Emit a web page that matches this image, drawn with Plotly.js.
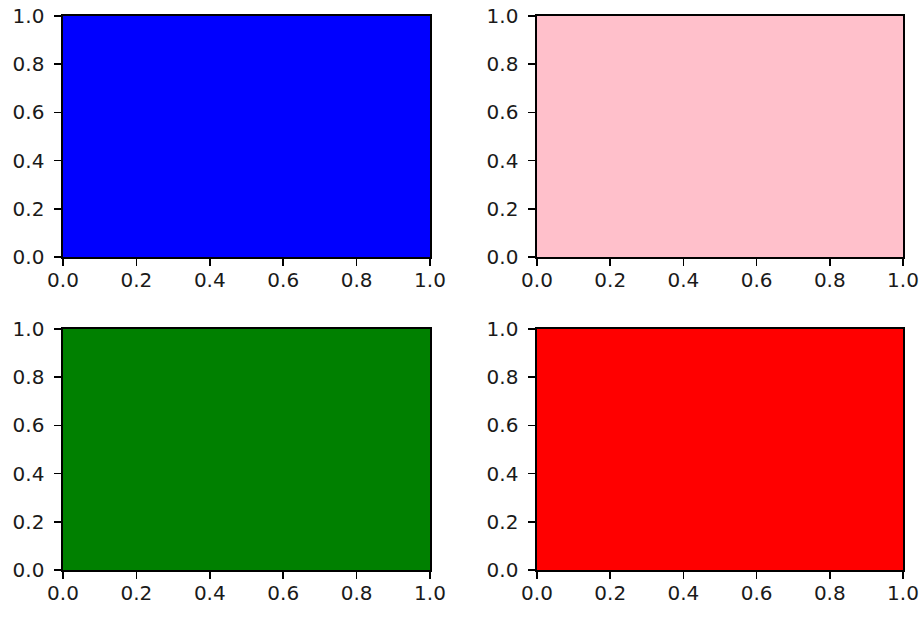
<!DOCTYPE html>
<html>
<head>
<meta charset="utf-8">
<script src="https://cdn.plot.ly/plotly-3.0.1.min.js"></script>
<style>html,body{margin:0;padding:0;background:#fff;}#chart{width:924px;height:622px;}</style>
</head>
<body>
<div id="chart"></div>
<script>
const faceColors = ['blue', 'pink', 'green', 'red'];
const tickValues = [0, 0.2, 0.4, 0.6, 0.8, 1.0];
const tickLabels = ['0.0', '0.2', '0.4', '0.6', '0.8', '1.0'];
const axisRange = [0, 1];

const W = 924, H = 622;
const colsPx = [[63, 430], [537, 903]];
const rowsPx = [[16, 257], [329, 570]];

const traces = [];
const layout = {
  width: W, height: H,
  margin: {l: 0, r: 0, t: 0, b: 0},
  paper_bgcolor: '#ffffff',
  plot_bgcolor: 'rgba(0,0,0,0)',
  showlegend: false,
  font: {family: 'DejaVu Sans', size: 20, color: '#1a1a1a'},
  shapes: []
};

function axisCommon() {
  return {
    range: axisRange.slice(),
    tickmode: 'array',
    tickvals: tickValues,
    ticktext: tickLabels,
    ticks: 'outside',
    ticklen: 7,
    tickwidth: 1.6,
    tickcolor: '#000000',
    showline: true,
    linecolor: '#000000',
    linewidth: 1.6,
    mirror: true,
    showgrid: false,
    zeroline: false,
    fixedrange: true,
    tickfont: {family: 'DejaVu Sans', size: 20, color: '#1a1a1a'}
  };
}

for (let i = 0; i < 4; i++) {
  const r = Math.floor(i / 2), c = i % 2;
  const n = i + 1;
  const xk = n === 1 ? 'xaxis' : 'xaxis' + n;
  const yk = n === 1 ? 'yaxis' : 'yaxis' + n;
  const xr = n === 1 ? 'x' : 'x' + n;
  const yr = n === 1 ? 'y' : 'y' + n;
  const xa = axisCommon();
  xa.domain = [colsPx[c][0] / W, colsPx[c][1] / W];
  xa.anchor = yr;
  xa.ticklabelstandoff = -3;
  const ya = axisCommon();
  ya.domain = [1 - rowsPx[r][1] / H, 1 - rowsPx[r][0] / H];
  ya.anchor = xr;
  ya.ticklabelstandoff = 6;
  layout[xk] = xa;
  layout[yk] = ya;
  traces.push({x: [], y: [], type: 'scatter', mode: 'markers', xaxis: xr, yaxis: yr, hoverinfo: 'skip'});
  layout.shapes.push({
    type: 'rect', xref: xr + ' domain', yref: yr + ' domain',
    x0: 0, x1: 1, y0: 0, y1: 1,
    fillcolor: faceColors[i], line: {width: 0}, layer: 'below'
  });
}

Plotly.newPlot('chart', traces, layout, {staticPlot: true, displayModeBar: false});
</script>
</body>
</html>
